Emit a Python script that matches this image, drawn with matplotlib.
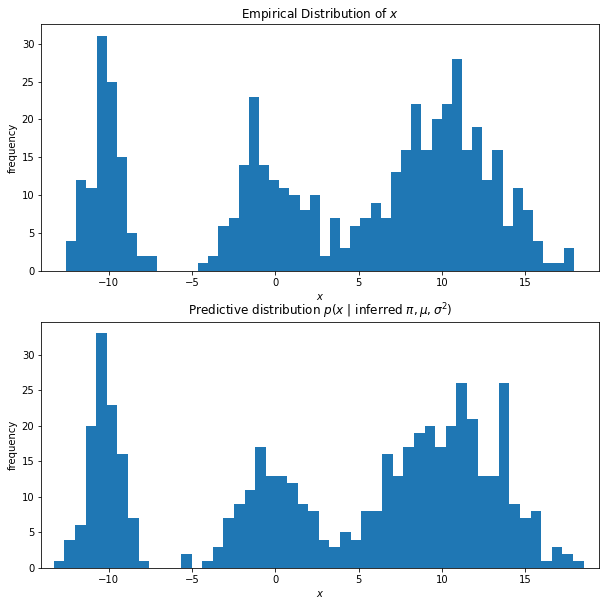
import numpy as np
import matplotlib
matplotlib.use("Agg")
import matplotlib.pyplot as plt

# Empirical histogram (50 bins)
emp_range = (-12.56, 17.90)
emp_counts = [4, 12, 11, 31, 25, 15, 5, 2, 2, 0, 0, 0, 0, 1, 2, 6, 7, 14, 23, 14,
              12, 11, 10, 8, 10, 2, 7, 3, 6, 7, 9, 7, 13, 16, 22, 16, 20, 22, 28, 16,
              19, 12, 16, 6, 11, 8, 4, 1, 1, 3]

# Predictive histogram (50 bins)
pred_range = (-13.30, 18.50)
pred_counts = [1, 4, 6, 20, 33, 23, 16, 7, 1, 0, 0, 0, 2, 0, 1, 3, 7, 9, 11, 17,
               13, 13, 12, 9, 8, 4, 3, 5, 4, 8, 8, 16, 13, 17, 19, 20, 17, 20, 26, 21,
               13, 13, 26, 9, 7, 8, 1, 3, 2, 1]

titles = ["Empirical Distribution of $x$",
          "Predictive distribution $p(x$ | inferred $\\pi, \\mu, \\sigma^2)$"]

plt.rcParams['font.size'] = 10
fig = plt.figure(figsize=(609 / 72, 606 / 72), dpi=72)
ax1 = fig.add_axes([0.0678, 0.5528, 0.9163, 0.4071])
ax2 = fig.add_axes([0.0678, 0.0627, 0.9163, 0.4064])

for ax, rng, counts, title in [(ax1, emp_range, emp_counts, titles[0]),
                               (ax2, pred_range, pred_counts, titles[1])]:
    edges = np.linspace(rng[0], rng[1], len(counts) + 1)
    centers = 0.5 * (edges[:-1] + edges[1:])
    ax.hist(centers, bins=edges, weights=counts, color="#1f77b4")
    ax.set_title(title)
    ax.set_xlabel("$x$")
    ax.set_ylabel("frequency")
    ax.set_xlim(-14.05, 19.44)

fig.savefig("out.png", dpi=72)
